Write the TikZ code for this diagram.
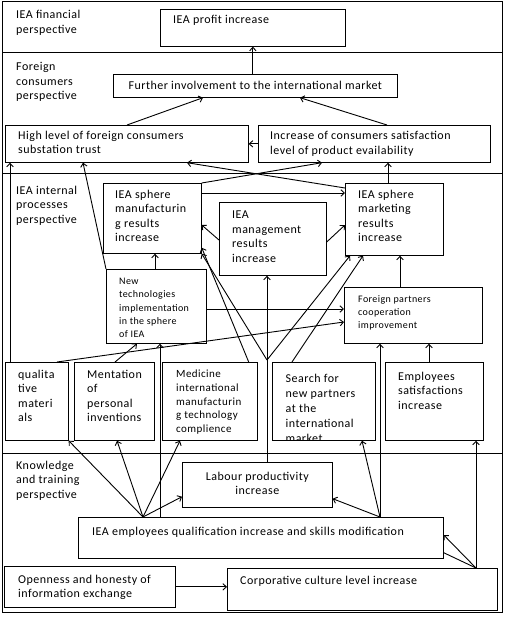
\documentclass[tikz,border=0pt]{standalone}
\usepackage{fontspec}
\setmainfont{Carlito}[LetterSpace=4]
\usepackage{tikz}
\usetikzlibrary{arrows.meta}
\newcommand{\bodyfont}{\fontsize{12}{14.6}\selectfont}
\newcommand{\smallfont}{\fontsize{10}{13.3}\selectfont}
\newcommand{\medfont}{\fontsize{11}{13.6}\selectfont}

\begin{document}
\begin{tikzpicture}
[x=1pt, y=-1pt,
box/.style={draw, rectangle, anchor=north west, inner sep=0pt, line width=0.7pt},
txt/.style={anchor=north west, inner sep=0pt, align=left, font=\bodyfont},
txtc/.style={inner sep=0pt, align=center, font=\bodyfont},
arrow/.style={line width=0.9pt, -{Straight Barb[length=3.5pt,width=6.5pt]}},
link/.style={line width=0.9pt},]
\useasboundingbox (0,0) rectangle (506,618);
\draw[line width=1pt] (2,2) rectangle (502,612);
\draw[line width=0.7pt] (2,52) -- (502,52);
\draw[line width=0.7pt] (2,173) -- (502,173);
\draw[line width=0.7pt] (2,453) -- (502,453);
\node (finpersp) [txt] at (16,10) {IEA financial\\perspective};
\node (conspersp) [txt] at (16,62) {Foreign\\consumers\\perspective};
\node (procpersp) [txt] at (16,185.5) {IEA internal\\processes\\perspective};
\node (knowpersp) [txt] at (16,460.5) {Knowledge\\and training\\perspective};

\node (profit) [box, minimum width=185pt, minimum height=37pt,
  label={[txt, xshift=13pt, yshift=-6.5pt]north west:IEA profit increase}] at (160,9) {};
\node (further) [box, minimum width=284pt, minimum height=23pt,
  label={[txtc]center:Further involvement to the international market}] at (113,74) {};
\node (trust) [box, minimum width=243pt, minimum height=37pt,
  label={[txt, xshift=13pt, yshift=-5.5pt]north west:High level of foreign consumers\\substation trust}] at (5,125) {};
\node (satisf) [box, minimum width=232pt, minimum height=37pt,
  label={[txt, xshift=12pt, yshift=-6.5pt]north west:Increase of consumers satisfaction\\level of product evailability}] at (258,125) {};
\node (manuf) [box, minimum width=98pt, minimum height=70pt,
  label={[txt, xshift=12pt, yshift=-6.5pt]north west:IEA sphere\\manufacturin\\g results\\increase}] at (103,183) {};
\node (manag) [box, minimum width=107pt, minimum height=73pt,
  label={[txt, xshift=13pt, yshift=-8.5pt]north west:IEA\\management\\results\\increase}] at (219,202) {};
\node (market) [box, minimum width=98pt, minimum height=72pt,
  label={[txt, xshift=13pt, yshift=-6.5pt]north west:IEA sphere\\marketing\\results\\increase}] at (345,183) {};
\node (newtech) [box, minimum width=100pt, minimum height=74pt,
  label={[txt, font=\smallfont, xshift=13pt, yshift=-9pt]north west:New\\technologies\\implementation\\in the sphere\\of IEA}] at (106,269) {};
\node (partners) [box, minimum width=138pt, minimum height=56pt,
  label={[txt, font=\smallfont, xshift=14pt, yshift=-8pt]north west:Foreign partners\\cooperation\\improvement}] at (344,287) {};
\node (qualmat) [box, minimum width=63pt, minimum height=78pt,
  label={[txt, xshift=13pt, yshift=-7.5pt]north west:qualita\\tive\\materi\\als}] at (5,362) {};
\node (invent) [box, minimum width=80pt, minimum height=78pt,
  label={[txt, xshift=13pt, yshift=-7.5pt]north west:Mentation\\of\\personal\\inventions}] at (74,362) {};
\node (medic) [box, minimum width=95pt, minimum height=78pt,
  label={[txt, font=\medfont, xshift=14pt, yshift=-8pt]north west:Medicine\\international\\manufacturin\\g technology\\complience}] at (162,362) {};
\node (search) [box, minimum width=103pt, minimum height=78pt,
  path picture={\node (searchtext) [txt, font=\fontsize{12}{15.2}\selectfont, draw=none, minimum width=0pt, minimum height=0pt]
    at ([xshift=13pt, yshift=-11pt]path picture bounding box.north west)
    {Search for\\new partners\\at the\\international\\market};}] at (272,362) {};
\node (empsat) [box, minimum width=98pt, minimum height=78pt,
  label={[txt, xshift=13pt, yshift=-9.5pt]north west:Employees\\satisfactions\\increase}] at (385,362) {};
\node (labour) [box, minimum width=150pt, minimum height=45pt,
  label={[txtc, yshift=1.5pt]center:Labour productivity\\increase}] at (182,462) {};
\node (qualif) [box, minimum width=365pt, minimum height=41pt,
  label={[txt, xshift=14pt, yshift=-9.5pt]north west:IEA employees qualification increase and skills modification}] at (78,517) {};
\node (openness) [box, minimum width=171pt, minimum height=41pt,
  label={[txt, xshift=14pt, yshift=-8.5pt]north west:Openness and honesty of\\information exchange}] at (4,566) {};
\node (culture) [box, minimum width=270pt, minimum height=42pt,
  label={[txt, xshift=13pt, yshift=-7.5pt]north west:Corporative culture level increase}] at (227,568) {};

\coordinate (fork) at (267,360);
\coordinate (qualleft) at ([xshift=65pt]qualif.north west);
\coordinate (qualright) at ([xshift=302pt]qualif.north west);
\coordinate (cultright) at ([xshift=249pt]culture.north west);

% financial and consumers perspectives
\draw[arrow] (further.north -| profit.south) -- (profit.south);
\draw[arrow] ([xshift=122pt]trust.north west) -- ([xshift=90pt]further.south west);
\draw[arrow] ([xshift=129pt]satisf.north west) -- ([xshift=187pt]further.south west);
\draw[arrow] (satisf.west) -- (trust.east);
\draw[arrow] ([xshift=5pt]qualmat.north west) -- ([xshift=5pt]trust.south west);
\draw[arrow] (newtech.north west) -- ([xshift=78pt]trust.south west);
\draw[arrow] (manuf.north east) -- ([xshift=64pt]satisf.south west);
\draw[arrow] ([yshift=-5pt]market.north west) -- ([xshift=182pt]trust.south west);
\draw[arrow] ([xshift=43pt]market.north west) -- ([xshift=130pt]satisf.south west);

% internal processes
\draw[arrow] ([yshift=-10pt]manuf.north east) -- ([yshift=-10pt]market.north west);
\draw[arrow] ([yshift=-38pt]manag.north west) -- ([yshift=-42pt]manuf.north east);
\draw[arrow] ([yshift=-40pt]manag.north east) -- ([yshift=-42pt]market.north west);
\draw[arrow] ([xshift=49pt]newtech.north west) -- ([xshift=52pt]manuf.south west);
\draw[arrow] ([yshift=-40pt]newtech.north east) -- ([yshift=-22pt]partners.north west);
\draw[arrow] ([xshift=52pt]qualmat.north west) -- ([yshift=-35pt]partners.north west);
\draw[arrow] ([xshift=41pt]invent.north west) -- ([xshift=31pt]newtech.south west);
\draw[arrow] ([xshift=-9pt]medic.north east) -- ([yshift=6pt]manuf.south east);
\draw[arrow] (fork) -- (manuf.south east);
\draw[arrow] (fork) -- ([xshift=5pt]market.south west);
\draw[arrow] ([xshift=20pt]search.north west) -- ([xshift=18pt]market.south west);
\draw[arrow] ([xshift=56pt]partners.north west) -- ([xshift=55pt]market.south west);
\draw[arrow] ([xshift=44pt]empsat.north west) -- ([xshift=85pt]partners.south west);

% knowledge and training
\draw[arrow] ([xshift=82pt]qualif.north west) -- ([xshift=54pt]newtech.south west);
\draw[arrow] ([xshift=85pt]labour.north west) -- ([xshift=48pt]manag.south west);
\draw[arrow] (qualleft) -- (qualmat.south east);
\draw[arrow] (qualleft) -- ([xshift=43pt]invent.south west);
\draw[arrow] (qualleft) -- ([xshift=18pt]medic.south west);
\draw[arrow] (qualleft) -- ([yshift=11pt]labour.south west);
\draw[arrow] (qualright) -- ([xshift=36pt]partners.south west);
\draw[arrow] (qualright) -- ([xshift=90pt]search.south west);
\draw[arrow] (qualright) -- ([yshift=9pt]labour.south east);
\draw[arrow] (cultright) -- (cultright |- empsat.south);
\draw[arrow] (cultright) -- ([yshift=-18pt]qualif.north east);
\draw[link] ([yshift=6pt]qualif.south east) -- (cultright);
\draw[arrow] (openness.east) -- (openness.east -| culture.west);

\end{tikzpicture}
\end{document}
